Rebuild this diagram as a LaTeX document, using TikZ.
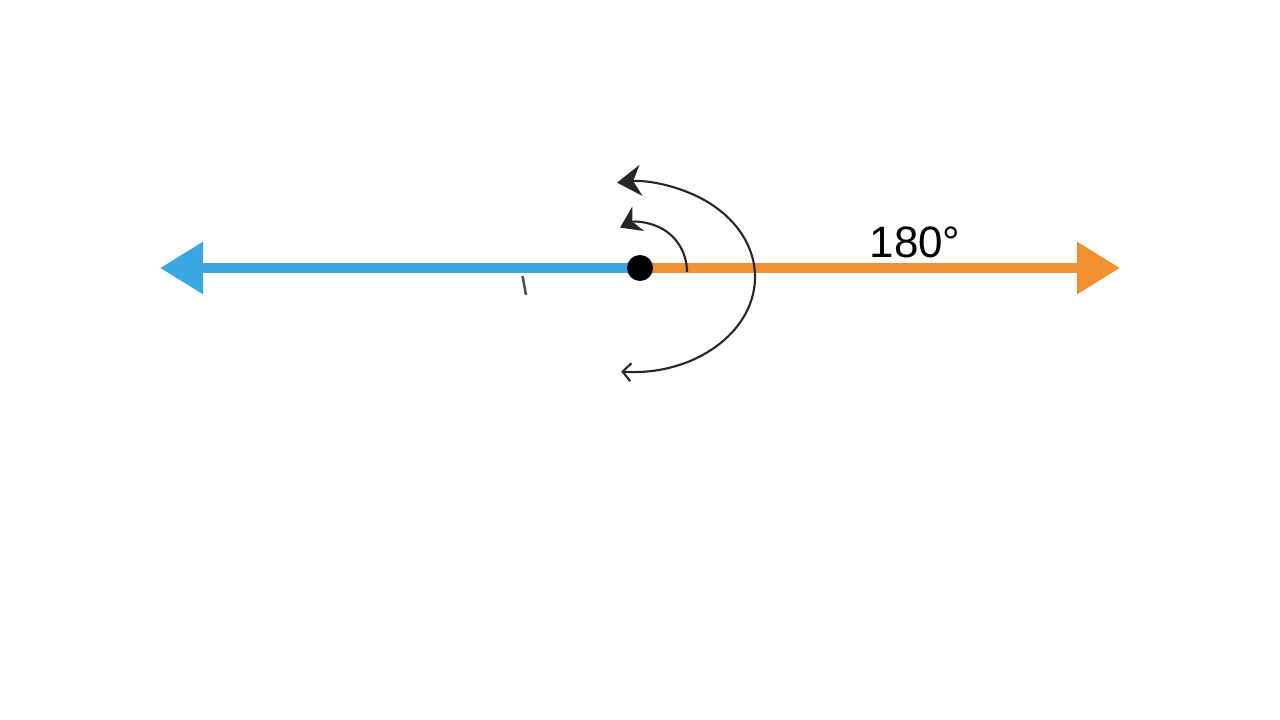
\documentclass[tikz,border=0pt]{standalone}
\usepackage{fontspec}
\setsansfont{Liberation Sans}
\usetikzlibrary{arrows.meta}
\definecolor{rayblue}{RGB}{59,167,226}
\definecolor{rayorange}{RGB}{241,145,50}

\begin{document}
\begin{tikzpicture}[
    ray/.style={line width=2.7pt,-{Triangle[length=4.3mm,width=5mm]}},
    turn/.style={line width=0.6pt,black!85}]
        \useasboundingbox (0,0) rectangle (12.8,7.2);
        \def\yl{4.52}

        \coordinate (L) at (1.60,\yl);
        \coordinate (R) at (11.20,\yl);
        \coordinate (O) at (6.40,\yl);

        \draw[ray,rayblue] (O) -- (L);
        \draw[ray,rayorange] (O) -- (R);

        \draw[line width=0.7pt,black!70] (5.225,4.44) -- (5.26,4.25);

        % quarter turn and half turn
        \draw[turn,-{Stealth[length=2mm,width=2.7mm]}] (6.87,4.48) arc[start angle=0,end angle=115,x radius=0.47,y radius=0.49];
        \draw[turn,{Straight Barb[length=0.8mm,width=1.8mm]}-{Stealth[length=2.4mm,width=3.1mm]}] (6.213,3.484) arc[start angle=-95,end angle=97,x radius=1.23,y radius=0.95];

        \node[circle,fill=black,inner sep=0pt,minimum size=2.6mm] (dot) at (O) {};
        \node (deg) at (9.15,4.78) {\sffamily\fontsize{12.5}{14}\selectfont 180°};
      \end{tikzpicture}
\end{document}
